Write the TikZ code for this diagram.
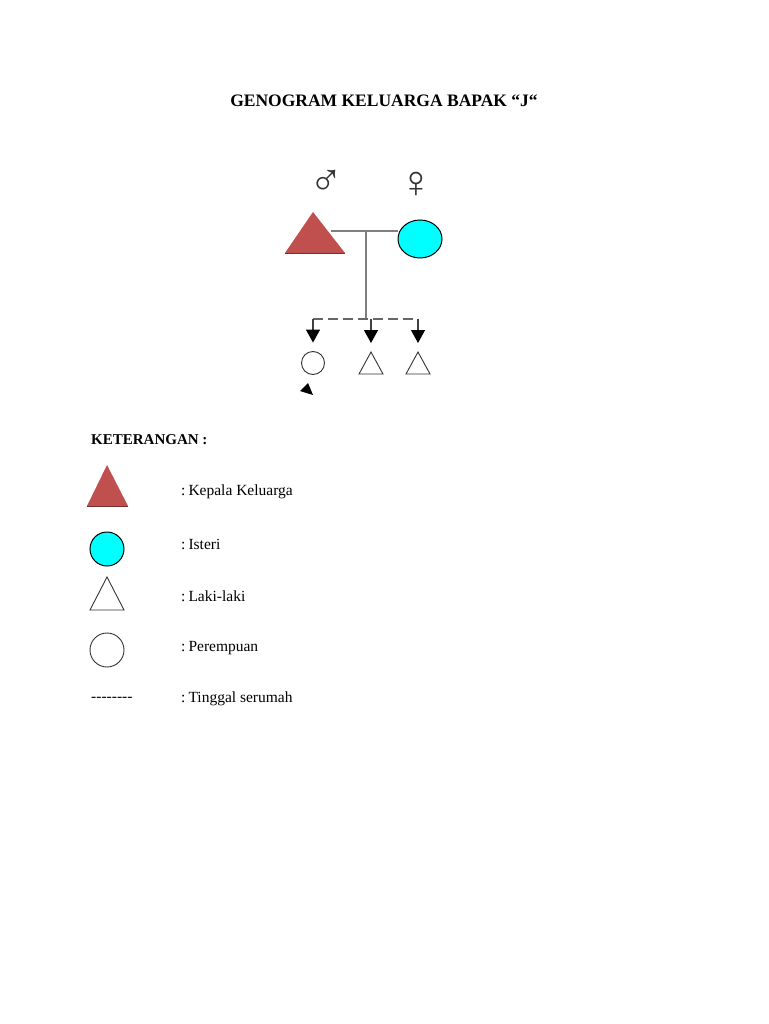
\documentclass[tikz,border=0pt]{standalone}
\usepackage{fontspec}
\setmainfont{Liberation Serif}
\usetikzlibrary{arrows.meta,shapes.geometric}
\definecolor{headred}{HTML}{C0504D}
\definecolor{linegray}{HTML}{7F7F7F}
\definecolor{wifecyan}{HTML}{00FFFF}
\begin{document}
\begin{tikzpicture}[x=1pt,y=-1pt,
  lbl/.style={anchor=west,inner sep=0pt,font=\fontsize{15.5}{18}\selectfont},
  ttl/.style={inner sep=0pt,font=\bfseries\fontsize{17.5}{20}\selectfont},
  sym/.style={inner sep=0pt,text=black!80,font=\fontsize{45}{48}\selectfont},
  rel/.style={draw=linegray,line width=1.3pt},
  desc/.style={draw=black!75,line width=1.3pt,-{Triangle[length=13pt,width=14pt,fill=black,color=black]}},
  dsh/.style={draw=black!60,line width=1.3pt,dash pattern=on 10pt off 5pt},
  headtri/.style={fill=headred,draw=none},
  outl/.style={draw=black!80,line width=0.9pt,fill=white}]
\useasboundingbox (0,0) rectangle (768,1024);

% title
\node[ttl] (title) at (384,101) {GENOGRAM KELUARGA BAPAK “J“};

% gender symbols
\node[sym] (male) at (326,183) {♂};
\node[sym] (female) at (416,185) {♀};

% father (red triangle)
\coordinate (fa) at (313,212);
\coordinate (fl) at (285,253);
\coordinate (fr) at (345,253);
\fill[headtri] (fa) -- (fr) -- (fl) -- cycle;
\draw[headred!60!black,line width=1pt] (fl) -- (fr);
\coordinate (fhook) at (331,231);

% mother (cyan ellipse)
\node[ellipse,draw=black,line width=1pt,fill=wifecyan,minimum width=44pt,minimum height=38pt,inner sep=0pt] (mother) at (420,239) {};

% marriage line
\coordinate (mleft) at (mother.west |- fhook);
\draw[rel] (fhook) -- (mleft);
\coordinate (mid) at (366,231);
\coordinate (sib) at (366,319);
\draw[rel] (mid) -- (sib);

% sibship dashed line
\coordinate (s1) at (313,319);
\coordinate (s2) at (371,319);
\coordinate (s3) at (418,319);
\draw[dsh] (s1) -- (s3);

% children
\node[circle,outl,minimum size=23pt,inner sep=0pt] (c1) at (313,363) {};
\coordinate (c2a) at (371,352);
\coordinate (c3a) at (418,352);
\draw[outl] (c2a) -- (383,374) -- (359,374) -- cycle;
\draw[outl] (c3a) -- (430,374) -- (406,374) -- cycle;

\draw[desc,shorten >=8.5pt] (s1) -- (c1.north);
\draw[desc,shorten >=9pt] (s2) -- (c2a);
\draw[desc,shorten >=9pt] (s3) -- (c3a);

% index pointer
\fill[black] (308,383) -- (300,391) -- (313,395) -- cycle;

% legend
\node[lbl,font=\bfseries\fontsize{15}{18}\selectfont] (ket) at (91,440) {KETERANGAN :};

\coordinate (la) at (107,465);
\fill[headtri] (la) -- (128,506) -- (87,506) -- cycle;
\draw[headred!60!black,line width=1pt] (87,506) -- (128,506);
\node[lbl] (l1) at (181,492) {:\kern3pt Kepala Keluarga};

\node[circle,draw=black,line width=1pt,fill=wifecyan,minimum size=34pt,inner sep=0pt] (lc) at (107,549) {};
\node[lbl] (l2) at (181,544) {:\kern3pt Isteri};

\draw[outl] (107,577) -- (124,610) -- (90,610) -- cycle;
\node[lbl] (l3) at (181,596) {:\kern3pt Laki-laki};

\node[circle,outl,minimum size=34pt,inner sep=0pt] (lp) at (107,650) {};
\node[lbl] (l4) at (181,648) {:\kern3pt Perempuan};

\node[lbl] (ld) at (91,699) {-{}-{}-{}-{}-{}-{}-{}-};
\node[lbl] (l5) at (181,699) {:\kern3pt Tinggal serumah};
\end{tikzpicture}
\end{document}
